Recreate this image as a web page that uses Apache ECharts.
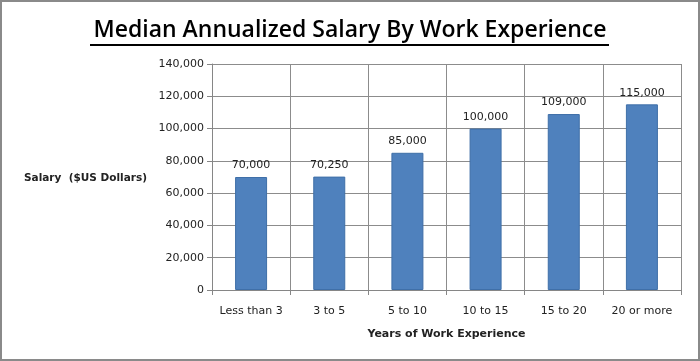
<!DOCTYPE html>
<html><head><meta charset="utf-8">
<script src="https://cdn.jsdelivr.net/npm/echarts@6/dist/echarts.min.js"></script>
<style>html,body{margin:0;padding:0;background:#fff}#c{width:700px;height:361px;box-sizing:border-box;border:2px solid #8a8a8a}</style>
</head><body><div id="c"></div>
<script>
var categories = ['Less than 3', '3 to 5', '5 to 10', '10 to 15', '15 to 20', '20 or more'];
var salaries = [70000, 70250, 85000, 100000, 109000, 115000];
var titleText = 'Median Annualized Salary By Work Experience';
var yName = 'Salary  ($US Dollars)';
var xName = 'Years of Work Experience';

var chart = echarts.init(document.getElementById('c'));
chart.setOption({
  animation: false,
  title: {
    text: titleText, left: 'center', top: 12,
    textStyle: {fontFamily: 'Open Sans', fontSize: 23, fontWeight: 600, color: '#000'}
  },
  graphic: [{
    type: 'line', shape: {x1: 88, y1: 43, x2: 607, y2: 43},
    style: {stroke: '#000', lineWidth: 2}
  }, {
    type: 'text', left: 22, top: 171,
    style: {text: yName, font: 'bold 10.5px "DejaVu Sans"', fill: '#222'}
  }],
  grid: {left: 210, right: 17, top: 62, bottom: 69},
  xAxis: {
    type: 'category', data: categories,
    name: xName, nameLocation: 'middle', nameGap: 39,
    nameTextStyle: {fontFamily: 'DejaVu Sans', fontWeight: 'bold', fontSize: 11, color: '#222'},
    axisLine: {lineStyle: {color: '#868686'}},
    axisTick: {show: true, length: 5, interval: 0, lineStyle: {color: '#868686'}},
    axisLabel: {interval: 0, fontFamily: 'DejaVu Sans', fontSize: 11, color: '#222', margin: 16},
    splitLine: {show: true, interval: 0, lineStyle: {color: '#8c8c8c'}}
  },
  yAxis: {
    type: 'value', min: 0, max: 140000, interval: 20000,
    axisLine: {show: true, lineStyle: {color: '#868686'}},
    axisTick: {show: true, length: 5, lineStyle: {color: '#868686'}},
    axisLabel: {fontFamily: 'DejaVu Sans', fontSize: 11, color: '#222', margin: 8,
      formatter: function (v) { return v.toLocaleString('en-US'); }},
    splitLine: {show: true, lineStyle: {color: '#8c8c8c'}}
  },
  series: [{
    type: 'bar', data: salaries, barWidth: 32,
    itemStyle: {color: '#4f81bd', borderColor: '#3f6fa8', borderWidth: 1},
    label: {show: true, position: 'top', distance: 6, fontFamily: 'DejaVu Sans', fontSize: 11, color: '#222',
      formatter: function (p) { return p.value.toLocaleString('en-US'); }}
  }]
});
</script></body></html>
